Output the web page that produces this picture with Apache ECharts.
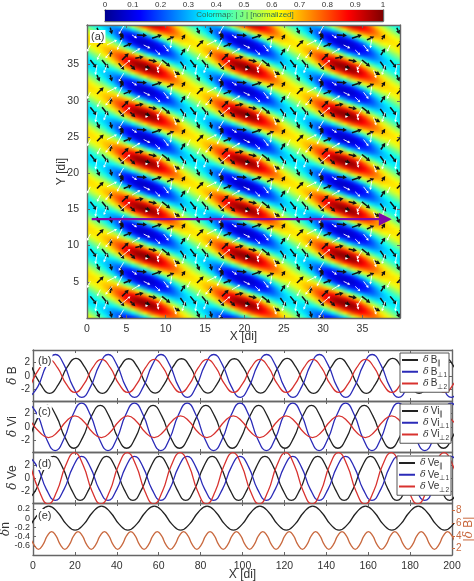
<!DOCTYPE html>
<html>
<head>
<meta charset="utf-8">
<title>Current and fluctuations</title>
<style>
html, body { margin: 0; background: #fff; }
#page { position: relative; width: 474px; height: 581px; overflow: hidden; }
/* the map is a soft layer below the frame, cut to the panel */
#fieldClip { position: absolute; left: 0; top: 0; width: 474px; height: 581px; clip-path: inset(25px 74px 263px 87px); }
#field { width: 474px; height: 581px; filter: blur(1.4px); }
#chart { position: absolute; left: 0; top: 0; width: 474px; height: 581px; }
</style>
<script src="https://cdn.jsdelivr.net/npm/echarts@6/dist/echarts.min.js"></script>
</head>
<body>
<div id="page">
    <div id="fieldClip"><div id="field"></div></div>
    <div id="chart"></div>
</div>
<script>
// colour scale of the map
const jetColors = ['#00008f', '#0000ff', '#007fff', '#00ffff', '#7fff7f', '#ffff00', '#ff7f00', '#ff0000', '#7f0000'];
const colorbarTicks = [0, 0.1, 0.2, 0.3, 0.4, 0.5, 0.6, 0.7, 0.8, 0.9, 1];

const tileColumns = [
    [.65, .66, .64, .58, .51, .43, .37, .34, .34, .39, .45, .53, .60],
    [.61, .65, .65, .61, .56, .48, .42, .37, .35, .36, .41, .48, .55],
    [.57, .63, .65, .64, .60, .53, .46, .40, .36, .35, .38, .43, .50],
    [.53, .60, .65, .66, .64, .58, .51, .43, .37, .34, .35, .39, .45],
    [.48, .57, .64, .68, .68, .64, .56, .48, .39, .34, .32, .34, .40],
    [.41, .52, .61, .68, .71, .69, .63, .54, .43, .35, .30, .29, .33],
    [.34, .45, .57, .67, .74, .75, .70, .61, .49, .38, .29, .25, .27],
    [.26, .36, .50, .64, .74, .79, .77, .69, .57, .43, .31, .23, .21],
    [.18, .27, .41, .57, .72, .81, .83, .78, .66, .51, .35, .23, .17],
    [.14, .19, .32, .49, .67, .81, .88, .86, .76, .60, .41, .25, .15],
    [.11, .13, .22, .40, .60, .78, .89, .92, .84, .69, .50, .30, .15],
    [.10, .09, .15, .30, .52, .73, .88, .95, .92, .79, .59, .37, .19],
    [.12, .07, .10, .21, .42, .65, .85, .96, .97, .87, .69, .46, .24],
    [.14, .07, .07, .14, .33, .57, .79, .94, .99, .93, .77, .55, .32],
    [.19, .08, .06, .10, .25, .47, .71, .90, .99, .98, .85, .64, .40],
    [.27, .12, .07, .08, .17, .38, .62, .83, .96, .99, .90, .73, .50],
    [.36, .17, .08, .08, .14, .30, .53, .75, .91, .98, .94, .80, .59],
    [.45, .25, .13, .09, .13, .24, .44, .65, .83, .94, .94, .84, .67],
    [.55, .35, .18, .12, .12, .19, .36, .56, .74, .87, .92, .87, .73],
    [.62, .44, .27, .16, .14, .17, .30, .47, .65, .79, .87, .86, .77],
    [.68, .53, .37, .24, .17, .18, .26, .39, .55, .70, .80, .84, .79],
    [.72, .60, .46, .33, .24, .21, .24, .34, .47, .61, .72, .79, .78],
    [.72, .64, .53, .41, .31, .26, .26, .31, .41, .53, .64, .72, .75],
    [.71, .67, .59, .49, .39, .32, .29, .31, .37, .46, .56, .65, .70],
    [.68, .67, .62, .54, .45, .38, .33, .32, .35, .42, .50, .59, .65],
];
const tileWidth = 12.7;
const tileHeight = 6.53;

// vectors inside one repeating cell: [x, y, dx, dy] in di
const blackArrows = [
    [1.27, 4.83, .85, .92], [4.24, 5.76, .42, .78], [6.35, 6.45, 1.27, -.09], [8.26, 5.99, 1.27, .46],
    [10.17, 5.76, .93, .46], [4.66, 4.83, 1.06, .46], [2.96, 3.45, .08, .92], [.42, 2.99, .85, -1.15],
    [1.91, 2.99, .85, -1.15], [4.02, 2.53, .72, -.92], [4.45, 2.99, .85, .92], [6.14, 3.22, 1.06, .23],
    [7.84, 2.99, 1.06, -.23], [9.53, 2.99, 1.06, -.92], [5.51, 2.3, .64, -.69], [7.41, 2.07, .64, -.23],
    [11.1, 1.38, .76, -.46], [11.94, 3.68, .55, .92], [11.86, 2.76, .76, -1.15], [1.27, .92, .34, -.92],
    [2.96, .92, .21, -.92], [4.24, .46, .21, -.92], [12.07, 5.85, .42, .69],
];
const whiteArrows = [
    [5.72, 6.45, .64, -.46], [7.2, 5.06, .85, -.46], [8.68, 4.37, .64, -.69], [10.8, 5.99, -.21, -1.38],
    [1.69, 3.91, -.42, -.92], [4.45, 5.76, -.64, -1.38], [2.54, 5.06, 1.27, .69], [3.18, 4.37, -.85, -1.15],
    [4.24, 1.84, 1.27, 1.15], [1.27, 2.3, -.21, -1.38], [4.66, 1.15, -.64, -1.15], [9.53, 2.76, -.64, -1.15],
    [7.67, 1.7, .1, 0], [11.01, 1.61, .34, -1.15], [8.89, 2.07, .21, -.92], [12.49, 2.3, -.42, -1.38],
    [.42, 5.06, -.42, -.92], [2.54, 2.3, -.42, -1.15], [5.72, 3.91, 1.06, .69], [9.74, 5.06, .64, -.92],
];
const cutLine = [[.6, 13.65], [37.9, 13.65]];

const mapTicks = [0, 5, 10, 15, 20, 25, 30, 35];
const cutTicks = [0, 20, 40, 60, 80, 100, 120, 140, 160, 180, 200];
const fieldTicks = [-2, 0, 2];
const densityTicks = [-0.6, -0.4, -0.2, 0, 0.2];
const magnitudeTicks = [2, 4, 6, 8];

// samples along the cut; each curve is read with its own start so a sample sits on every crest
const cutX = [
    0, 4.2, 8.4, 12.6, 16.8, 21, 25.2, 29.4, 33.6, 37.8, 42, 46.2,
    50.4, 54.6, 58.8, 63, 67.2, 71.4, 75.6, 79.8, 84, 88.2, 92.4, 96.6,
    100.8, 105, 109.2, 113.4, 117.6, 121.8, 126, 130.2, 134.4, 138.6, 142.8, 147,
    151.2, 155.4, 159.6, 163.8, 168, 172.2, 176.4, 180.6, 184.8, 189, 193.2, 197.4, 201.6, 205.8,
];
const bPar = [
    1.32, -1.32, -2.65, -1.32, 1.32, 2.65, 1.32, -1.32, -2.65, -1.32, 1.32, 2.60,
    1.32, -1.32, -2.60, -1.32, 1.32, 2.60, 1.32, -1.32, -2.60, -1.32, 1.32, 2.60,
    1.32, -1.32, -2.60, -1.32, 1.32, 2.65, 1.32, -1.32, -2.65, -1.32, 1.32, 2.65,
    1.32, -1.32, -2.65, -1.32, 1.32, 2.65, 1.32, -1.32, -2.65, -1.32, 1.32, 2.65, 1.32, -1.32,
];
const bPerp1 = [
    -3.25, -1.63, 1.63, 3.25, 1.63, -1.63, -3.25, -1.63, 1.63, 3.25, 1.63, -1.63,
    -3.25, -1.63, 1.63, 3.25, 1.63, -1.63, -3.25, -1.63, 1.63, 3.25, 1.63, -1.63,
    -3.25, -1.63, 1.63, 3.25, 1.63, -1.63, -3.25, -1.63, 1.63, 3.25, 1.63, -1.63,
    -3.25, -1.63, 1.63, 3.25, 1.63, -1.63, -3.25, -1.63, 1.63, 3.25, 1.63, -1.63, -3.25, -1.63,
];
const bPerp2 = [
    -1.25, 1.25, 2.50, 1.25, -1.25, -2.50, -1.25, 1.25, 2.50, 1.25, -1.25, -2.50,
    -1.25, 1.25, 2.50, 1.25, -1.25, -2.50, -1.25, 1.25, 2.50, 1.25, -1.25, -2.50,
    -1.25, 1.25, 2.50, 1.25, -1.25, -2.50, -1.25, 1.25, 2.50, 1.25, -1.25, -2.50,
    -1.25, 1.25, 2.50, 1.25, -1.25, -2.50, -1.25, 1.25, 2.50, 1.25, -1.25, -2.50, -1.25, 1.25,
];
const viPar = [
    -1.58, 1.58, 3.15, 1.58, -1.58, -3.15, -1.58, 1.58, 3.15, 1.58, -1.58, -3.15,
    -1.58, 1.58, 3.15, 1.58, -1.58, -3.15, -1.58, 1.58, 3.15, 1.58, -1.58, -3.15,
    -1.58, 1.58, 3.15, 1.58, -1.58, -3.15, -1.58, 1.58, 3.15, 1.58, -1.58, -3.15,
    -1.58, 1.58, 3.15, 1.58, -1.58, -3.15, -1.58, 1.58, 3.15, 1.58, -1.58, -3.15, -1.58, 1.58,
];
const viPerp1 = [
    3.50, 1.75, -1.75, -3.50, -1.75, 1.75, 3.50, 1.75, -1.75, -3.50, -1.75, 1.75,
    3.50, 1.75, -1.75, -3.50, -1.75, 1.75, 3.50, 1.75, -1.75, -3.50, -1.75, 1.75,
    3.50, 1.75, -1.75, -3.50, -1.75, 1.75, 3.50, 1.75, -1.75, -3.50, -1.75, 1.75,
    3.50, 1.75, -1.75, -3.50, -1.75, 1.75, 3.50, 1.75, -1.75, -3.50, -1.75, 1.75, 3.50, 1.75,
];
const viPerp2 = [
    .80, -.80, -1.60, -.80, .80, 1.60, .80, -.80, -1.60, -.80, .80, 1.60,
    .80, -.80, -1.60, -.80, .80, 1.60, .80, -.80, -1.60, -.80, .80, 1.60,
    .80, -.80, -1.60, -.80, .80, 1.60, .80, -.80, -1.60, -.80, .80, 1.60,
    .80, -.80, -1.60, -.80, .80, 1.60, .80, -.80, -1.60, -.80, .80, 1.60, .80, -.80,
];
const vePar = [
    -3.30, -1.65, 1.65, 3.30, 1.65, -1.65, -3.30, -1.65, 1.65, 3.30, 1.65, -1.65,
    -3.30, -1.65, 1.65, 3.30, 1.65, -1.65, -3.30, -1.65, 1.65, 3.30, 1.65, -1.65,
    -3.30, -1.65, 1.65, 3.30, 1.65, -1.65, -3.30, -1.65, 1.65, 3.30, 1.65, -1.65,
    -3.30, -1.65, 1.65, 3.30, 1.65, -1.65, -3.30, -1.65, 1.65, 3.30, 1.65, -1.65, -3.30, -1.65,
];
const vePerp1 = [
    3.30, 1.65, -1.65, -3.30, -1.65, 1.65, 3.30, 1.65, -1.65, -3.30, -1.65, 1.65,
    3.30, 1.65, -1.65, -3.30, -1.65, 1.65, 3.30, 1.65, -1.65, -3.30, -1.65, 1.65,
    3.30, 1.65, -1.65, -3.30, -1.65, 1.65, 3.30, 1.65, -1.65, -3.30, -1.65, 1.65,
    3.30, 1.65, -1.65, -3.30, -1.65, 1.65, 3.30, 1.65, -1.65, -3.30, -1.65, 1.65, 3.30, 1.65,
];
const vePerp2 = [
    1.93, -1.93, -3.85, -1.93, 1.93, 3.85, 1.93, -1.93, -3.85, -1.93, 1.93, 3.85,
    1.93, -1.93, -3.85, -1.93, 1.93, 3.85, 1.93, -1.93, -3.85, -1.93, 1.93, 3.85,
    1.93, -1.93, -3.85, -1.93, 1.93, 3.85, 1.93, -1.93, -3.85, -1.93, 1.93, 3.85,
    1.93, -1.93, -3.85, -1.93, 1.93, 3.85, 1.93, -1.93, -3.85, -1.93, 1.93, 3.85, 1.93, -1.93,
];
const density = [
    -.13, .13, .26, .13, -.13, -.26, -.13, .13, .26, .13, -.13, -.26,
    -.13, .13, .26, .13, -.13, -.26, -.13, .13, .26, .13, -.13, -.26,
    -.13, .13, .26, .13, -.13, -.26, -.13, .13, .26, .13, -.13, -.26,
    -.13, .13, .26, .13, -.13, -.26, -.13, .13, .26, .13, -.13, -.26, -.13, .13,
];
// |dB| oscillates twice as fast, so it is read twice as often
const magnitudeX = [
    0, 2.1, 4.2, 6.3, 8.4, 10.5, 12.6, 14.7, 16.8, 18.9, 21, 23.1,
    25.2, 27.3, 29.4, 31.5, 33.6, 35.7, 37.8, 39.9, 42, 44.1, 46.2, 48.3,
    50.4, 52.5, 54.6, 56.7, 58.8, 60.9, 63, 65.1, 67.2, 69.3, 71.4, 73.5,
    75.6, 77.7, 79.8, 81.9, 84, 86.1, 88.2, 90.3, 92.4, 94.5, 96.6, 98.7,
    100.8, 102.9, 105, 107.1, 109.2, 111.3, 113.4, 115.5, 117.6, 119.7, 121.8, 123.9,
    126, 128.1, 130.2, 132.3, 134.4, 136.5, 138.6, 140.7, 142.8, 144.9, 147, 149.1,
    151.2, 153.3, 155.4, 157.5, 159.6, 161.7, 163.8, 165.9, 168, 170.1, 172.2, 174.3,
    176.4, 178.5, 180.6, 182.7, 184.8, 186.9, 189, 191.1, 193.2, 195.3, 197.4, 199.5, 201.6, 203.7,
];
const magnitude = [
    4.0, 2.6, 1.9, 2.6, 4.0, 4.7, 4.0, 2.6, 1.9, 2.6, 4.0, 4.7,
    4.0, 2.6, 1.9, 2.6, 4.0, 4.7, 4.0, 2.6, 1.9, 2.6, 4.0, 4.7,
    4.0, 2.6, 1.9, 2.6, 4.0, 4.7, 4.0, 2.6, 1.9, 2.6, 4.0, 4.7,
    4.0, 2.6, 1.9, 2.6, 4.0, 4.7, 4.0, 2.6, 1.9, 2.6, 4.0, 4.7,
    4.0, 2.6, 1.9, 2.6, 4.0, 4.7, 4.0, 2.6, 1.9, 2.6, 4.0, 4.7,
    4.0, 2.6, 1.9, 2.6, 4.0, 4.7, 4.0, 2.6, 1.9, 2.6, 4.0, 4.7,
    4.0, 2.6, 1.9, 2.6, 4.0, 4.7, 4.0, 2.6, 1.9, 2.6, 4.0, 4.7,
    4.0, 2.6, 1.9, 2.6, 4.0, 4.7, 4.0, 2.6, 1.9, 2.6, 4.0, 4.7, 4.0, 2.6,
];

const FONT = '"Liberation Sans", Arial, sans-serif';
const INK = '#333';
const FRAME = '#666';
const BLACK = '#222';
const BLUE = '#2b2bb8';
const RED = '#d8322f';
const BROWN = '#c9693f';
const PURPLE = '#8008a8';

const xMax = 39.77;
const yMax = 40.47;

const chart = echarts.init(document.getElementById('chart'), null, { renderer: 'canvas' });
const fieldChart = echarts.init(document.getElementById('field'), null, { renderer: 'canvas' });

const mapCells = [];
const cellW = tileWidth / tileColumns.length;
const cellH = tileHeight / tileColumns[0].length;
// a few cells past each edge, so the soft layer does not fade at the frame
for (let n = -8; n * cellW < xMax + 4; n++) {
    const column = tileColumns[(n + 25) % 25];
    for (let m = -8; m * cellH < yMax + 4; m++) {
        mapCells.push([n * cellW, m * cellH, column[12 - ((m + 13) % 13)]]);
    }
}

function repeatArrows(list) {
    const out = [];
    for (let i = 0; i < 4; i++) {
        for (let j = 0; j < 7; j++) {
            list.forEach(a => {
                const x = a[0] + i * tileWidth;
                const y = a[1] + j * tileHeight;
                if (x < xMax && y < yMax) out.push([x, y, a[2], a[3]]);
            });
        }
    }
    return out;
}

function renderCell(params, api) {
    const p0 = api.coord([api.value(0), api.value(1) + cellH]);
    const p1 = api.coord([api.value(0) + cellW, api.value(1)]);
    return {
        type: 'rect',
        shape: { x: p0[0], y: p0[1], width: p1[0] - p0[0] + 0.6, height: p1[1] - p0[1] + 0.6 },
        style: { fill: api.visual('color') },
    };
}

function arrowRenderer(color, width, headSize) {
    return function (params, api) {
        const x = api.value(0);
        const y = api.value(1);
        const from = api.coord([x, y]);
        const to = api.coord([x + api.value(2), y + api.value(3)]);
        const ang = Math.atan2(to[1] - from[1], to[0] - from[0]);
        const side = headSize * 0.55;
        const back = [to[0] - headSize * Math.cos(ang), to[1] - headSize * Math.sin(ang)];
        return {
            type: 'group',
            children: [
                {
                    type: 'line',
                    shape: { x1: from[0], y1: from[1], x2: back[0], y2: back[1] },
                    style: { stroke: color, lineWidth: width },
                },
                {
                    type: 'polygon',
                    shape: {
                        points: [
                            to,
                            [back[0] + side * Math.sin(ang), back[1] - side * Math.cos(ang)],
                            [back[0] - side * Math.sin(ang), back[1] + side * Math.cos(ang)],
                        ],
                    },
                    style: { fill: color },
                },
            ],
        };
    };
}

function renderColorbar(params, api) {
    const p0 = api.coord([0, 1]);
    const p1 = api.coord([1, 0]);
    const stops = jetColors.map((c, i) => ({ offset: i / (jetColors.length - 1), color: c }));
    return {
        type: 'rect',
        shape: { x: p0[0], y: p0[1], width: p1[0] - p0[0], height: p1[1] - p0[1] },
        style: { fill: new echarts.graphic.LinearGradient(0, 0, 1, 0, stops) },
    };
}

const mapGrid = { left: 87, top: 25, width: 313, height: 293, outerBoundsMode: 'none' };
const grids = [
    { left: 105, top: 10, width: 278, height: 11, outerBoundsMode: 'none' },
    mapGrid,
    { left: 33, top: 350, width: 419, height: 51, outerBoundsMode: 'none' },
    { left: 33, top: 401, width: 419, height: 51, outerBoundsMode: 'none' },
    { left: 33, top: 452, width: 419, height: 51, outerBoundsMode: 'none' },
    { left: 33, top: 503, width: 419, height: 52, outerBoundsMode: 'none' },
];

const xAxes = [];
const yAxes = [];

function plainAxis(gridIndex, position, extent, ticks, labelStyle, extra) {
    return Object.assign({
        type: 'value',
        gridIndex: gridIndex,
        position: position,
        min: extent[0],
        max: extent[1],
        scale: true,
        nameMoveOverlap: false,
        splitLine: { show: false },
        axisLine: { show: true, onZero: false, lineStyle: { color: FRAME, width: 1.4 } },
        axisTick: { show: ticks.length > 0, inside: true, length: 3, customValues: ticks, lineStyle: { color: FRAME } },
        axisLabel: labelStyle
            ? Object.assign({
                show: true,
                customValues: ticks,
                color: INK,
                fontFamily: FONT,
                fontSize: 10,
                margin: 3,
                hideOverlap: false,
                showMinLabel: true,
                showMaxLabel: true,
            }, labelStyle)
            : { show: false },
    }, extra);
}

// every panel has a frame: two axes a side, only one of them labelled
function addPanel(gridIndex, xExtent, xTicks, xLabel, xExtra, yExtent, yTicks, yLabel, yExtra) {
    xAxes.push(plainAxis(gridIndex, 'bottom', xExtent, xTicks, xLabel, xExtra));
    xAxes.push(plainAxis(gridIndex, 'top', xExtent, xTicks, null));
    yAxes.push(plainAxis(gridIndex, 'left', yExtent, yTicks, yLabel, yExtra));
    yAxes.push(plainAxis(gridIndex, 'right', yExtent, yTicks, null));
}

const axisNameStyle = {
    color: INK,
    fontFamily: FONT,
    fontSize: 12,
    rich: {
        i: { fontStyle: 'italic', fontFamily: '"DejaVu Serif", serif', fontSize: 12, color: INK },
    },
};

// colour bar: labels go on top
xAxes.push(plainAxis(0, 'top', [0, 1], colorbarTicks, { fontSize: 8, margin: 1, formatter: v => String(v) }));
xAxes.push(plainAxis(0, 'bottom', [0, 1], [], null));
yAxes.push(plainAxis(0, 'left', [0, 1], [], null));
yAxes.push(plainAxis(0, 'right', [0, 1], [], null));

addPanel(1, [0, xMax], mapTicks, { fontSize: 10.5, margin: 6 },
    { name: 'X [di]', nameLocation: 'middle', nameGap: 13, nameTextStyle: axisNameStyle },
    [0, yMax], mapTicks.slice(1), { fontSize: 10.5, margin: 8 },
    { name: 'Y [di]', nameLocation: 'middle', nameGap: 19, nameTextStyle: axisNameStyle });

addPanel(2, [0, 200], cutTicks, null, {}, [-3.8, 3.93], fieldTicks, {},
    { name: '{i|δ} B', nameLocation: 'middle', nameGap: 14, nameTextStyle: axisNameStyle });
addPanel(3, [0, 200], cutTicks, null, {}, [-3.7, 3.8], fieldTicks, {},
    { name: '{i|δ} Vi', nameLocation: 'middle', nameGap: 14, nameTextStyle: axisNameStyle });
addPanel(4, [0, 200], cutTicks, null, {}, [-3.7, 3.95], fieldTicks, {},
    { name: '{i|δ} Ve', nameLocation: 'middle', nameGap: 14, nameTextStyle: axisNameStyle });

xAxes.push(plainAxis(5, 'bottom', [0, 200], cutTicks, { fontSize: 10.5, margin: 6 }, { name: 'X [di]', nameLocation: 'middle', nameGap: 14, nameTextStyle: axisNameStyle }));
xAxes.push(plainAxis(5, 'top', [0, 200], cutTicks, null));
yAxes.push(plainAxis(5, 'left', [-0.8, 0.33], densityTicks, { fontSize: 9 },
    { name: '{i|δ}n', nameLocation: 'middle', nameGap: 21, nameTextStyle: axisNameStyle }));
yAxes.push(plainAxis(5, 'right', [1, 9.2], magnitudeTicks, { color: BROWN, margin: 4 }, {
    name: '|{i|δ} B|',
    nameLocation: 'middle',
    nameGap: 11,
    nameRotate: 90,
    nameTextStyle: Object.assign({}, axisNameStyle, {
        color: BROWN,
        rich: { i: { fontStyle: 'italic', fontFamily: '"DejaVu Serif", serif', fontSize: 12, color: BROWN } },
    }),
    axisTick: { show: true, inside: false, length: 3, customValues: magnitudeTicks, lineStyle: { color: BROWN } },
}));

function curve(name, xs, shift, ys, color, panel, yAxisIndex) {
    return {
        type: 'line',
        name: name,
        xAxisIndex: panel * 2,
        yAxisIndex: yAxisIndex === undefined ? panel * 2 : yAxisIndex,
        data: xs.map((x, i) => [x + shift, ys[i]]),
        smooth: true,
        showSymbol: false,
        clip: true,
        animation: false,
        silent: true,
        itemStyle: { color: color },
        lineStyle: { color: color, width: 1.3 },
    };
}

const series = [
    {
        type: 'custom',
        xAxisIndex: 0,
        yAxisIndex: 0,
        data: [[0, 1]],
        renderItem: renderColorbar,
        silent: true,
        animation: false,
    },
    {
        type: 'custom',
        xAxisIndex: 2,
        yAxisIndex: 2,
        data: repeatArrows(blackArrows),
        renderItem: arrowRenderer('#111', 1.5, 4),
        encode: { x: 0, y: 1 },
        clip: true,
        silent: true,
        animation: false,
        z: 3,
    },
    {
        type: 'custom',
        xAxisIndex: 2,
        yAxisIndex: 2,
        data: repeatArrows(whiteArrows),
        renderItem: arrowRenderer('#fff', 0.9, 2.6),
        encode: { x: 0, y: 1 },
        clip: true,
        silent: true,
        animation: false,
        z: 3,
    },
    {
        type: 'line',
        xAxisIndex: 2,
        yAxisIndex: 2,
        data: [
            { value: cutLine[0], symbol: 'none' },
            { value: cutLine[1], symbol: 'triangle', symbolRotate: -90, symbolSize: [13, 13] },
        ],
        showSymbol: true,
        showAllSymbol: true,
        silent: true,
        animation: false,
        itemStyle: { color: PURPLE },
        lineStyle: { color: PURPLE, width: 2.2 },
        z: 4,
    },
    curve('B|∥', cutX, -0.5, bPar, BLACK, 2),
    curve('B|⊥1', cutX, -1.9, bPerp1, BLUE, 2),
    curve('B|⊥2', cutX, -0.9, bPerp2, RED, 2),
    curve('Vi|∥', cutX, -1.5, viPar, BLACK, 3),
    curve('Vi|⊥1', cutX, -2, viPerp1, BLUE, 3),
    curve('Vi|⊥2', cutX, -1, viPerp2, RED, 3),
    curve('Ve|∥', cutX, -2.7, vePar, BLACK, 4),
    curve('Ve|⊥1', cutX, -2, vePerp1, BLUE, 4),
    curve('Ve|⊥2', cutX, -1.2, vePerp2, RED, 4),
    curve('n', cutX, -0.9, density, BLACK, 5),
    curve('mag', magnitudeX, -1.6, magnitude, BROWN, 5, 11),
];

function panelLegend(names, left, top) {
    return {
        data: names,
        orient: 'vertical',
        left: left,
        top: top,
        padding: [2, 2, 2, 2],
        itemGap: 0,
        itemWidth: 16,
        itemHeight: 2,
        icon: 'rect',
        selectedMode: false,
        backgroundColor: '#fff',
        borderColor: '#555',
        borderWidth: 1,
        formatter: name => {
            const parts = name.split('|');
            return '{d|δ}{t|' + parts[0] + '}{s|' + parts[1] + '}';
        },
        textStyle: {
            rich: {
                d: { fontStyle: 'italic', fontFamily: '"DejaVu Serif", serif', fontSize: 9.5, color: INK, lineHeight: 13.5, padding: [0, 2, 0, 0] },
                t: { fontFamily: FONT, fontSize: 10, color: INK, lineHeight: 13.5 },
                s: { fontFamily: FONT, fontSize: 6.5, color: INK, lineHeight: 13.5, verticalAlign: 'bottom' },
            },
        },
    };
}

function panelTag(text, left, top) {
    return {
        text: text,
        left: left,
        top: top,
        padding: [1, 1],
        backgroundColor: '#fff',
        textStyle: { color: INK, fontFamily: FONT, fontSize: 11, fontWeight: 'normal' },
    };
}

fieldChart.setOption({
    animation: false,
    grid: mapGrid,
    xAxis: { type: 'value', min: 0, max: xMax, show: false },
    yAxis: { type: 'value', min: 0, max: yMax, show: false },
    visualMap: {
        show: false,
        seriesIndex: 0,
        dimension: 2,
        min: 0,
        max: 1,
        inRange: { color: jetColors },
    },
    series: [{
        type: 'custom',
        data: mapCells,
        renderItem: renderCell,
        encode: { x: 0, y: 1 },
        clip: false,
        silent: true,
        animation: false,
    }],
});

chart.setOption({
    animation: false,
    grid: grids,
    xAxis: xAxes,
    yAxis: yAxes,
    legend: [
        panelLegend(['B|∥', 'B|⊥1', 'B|⊥2'], 400, 353),
        panelLegend(['Vi|∥', 'Vi|⊥1', 'Vi|⊥2'], 400, 404),
        panelLegend(['Ve|∥', 'Ve|⊥1', 'Ve|⊥2'], 397, 456),
    ],
    title: [
        panelTag('(a)', 90, 30),
        panelTag('(b)', 37, 354),
        panelTag('(c)', 37, 405),
        panelTag('(d)', 37, 457),
        panelTag('(e)', 37, 509),
        {
            text: 'Colormap: | J | [normalized]',
            left: 245,
            top: 11,
            textAlign: 'center',
            padding: 0,
            textStyle: { color: '#2f6f55', fontFamily: FONT, fontSize: 8, fontWeight: 'normal' },
        },
    ],
    series: series,
});
</script>
</body>
</html>
